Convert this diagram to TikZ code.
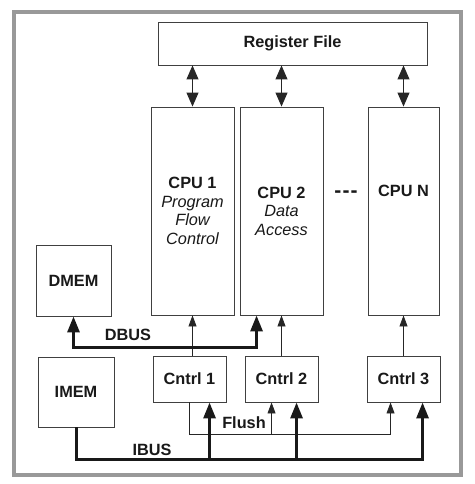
\documentclass[tikz,border=0pt]{standalone}
\usepackage{fontspec}
\setmainfont{Liberation Sans}
\usetikzlibrary{arrows.meta}
\begin{document}
\begin{tikzpicture}[x=1pt,y=-1pt,
  txt/.style={font=\fontsize{16.3}{18.5}\selectfont\bfseries, text=black!90, inner sep=0pt},
  box/.style={txt, draw=black!75, line width=0.9pt, fill=white, align=center},
  dbl/.style={line width=1pt, black!85, {Triangle[width=12pt,length=14pt]}-{Triangle[width=12pt,length=14pt]}},
  thinarr/.style={line width=0.8pt, black!85, -{Triangle[width=8pt,length=11pt]}},
  bus/.style={line width=3pt, black!90},
  busarr/.style={bus, -{Triangle[width=12pt,length=16pt]}}]
\useasboundingbox (0,0) rectangle (474,484);
\draw[line width=4pt, black!40] (14,12) rectangle (461,475);

% boxes
\node[box, minimum width=269pt, minimum height=43pt] (rf) at (292.5,43.5) {Register File};
\node[box, minimum width=83pt, minimum height=208pt] (cpu1) at (192.5,211)
  {CPU 1\\\mdseries\itshape Program\\\mdseries\itshape Flow\\\mdseries\itshape Control};
\node[box, minimum width=83pt, minimum height=208pt] (cpu2) at (281.5,211)
  {CPU 2\\\mdseries\itshape Data\\\mdseries\itshape Access};
\node[box, minimum width=71pt, minimum height=208pt] (cpun) at (403.5,211) {};
\node[txt] (cpunlabel) at (403.5,191) {CPU N};
\node[txt, font=\fontsize{21}{21}\selectfont\bfseries] (dots) at (346,194) {-\kern1.2pt-\kern1.2pt-};
\node[box, minimum width=75pt, minimum height=71pt] (dmem) at (73.5,280.5) {DMEM};
\node[box, minimum width=76pt, minimum height=70pt] (imem) at (76,392) {IMEM};
\node[box, minimum width=73pt, minimum height=46pt] (c1) at (189.5,379) {Cntrl 1};
\node[box, minimum width=73pt, minimum height=46pt] (c2) at (281.5,379) {Cntrl 2};
\node[box, minimum width=73pt, minimum height=46pt] (c3) at (403.5,379) {Cntrl 3};

% register file links
\draw[dbl] (rf.south -| cpu1.north) -- (cpu1.north);
\draw[dbl] (rf.south -| cpu2.north) -- (cpu2.north);
\draw[dbl] (rf.south -| cpun.north) -- (cpun.north);

% control to cpu
\draw[thinarr] (cpu1.south |- c1.north) -- (cpu1.south);
\draw[thinarr] (cpu2.south |- c2.north) -- (cpu2.south);
\draw[thinarr] (cpun.south |- c3.north) -- (cpun.south);

% DBUS
\coordinate (dbusy) at (0,347);
\coordinate (d2) at ([xshift=17pt]cpu2.south west);
\draw[bus, {Triangle[width=12pt,length=16pt]}-{Triangle[width=12pt,length=16pt]}]
  (dmem.south) |- (d2 |- dbusy) -- (d2);
\node[txt] (dbuslabel) at (128,335) {DBUS};

% Flush
\coordinate (flushy) at (0,434);
\coordinate (f2) at ([xshift=27pt]c2.south west);
\coordinate (f3) at ([xshift=24pt]c3.south west);
\draw[thinarr] (c1.south) |- (f3 |- flushy) -- (f3);
\draw[thinarr] (f2 |- flushy) -- (f2);
\node[txt] (flushlabel) at (244,423) {Flush};

% IBUS
\coordinate (ibusy) at (0,459);
\coordinate (i1) at ([xshift=57pt]c1.south west);
\coordinate (i2) at ([xshift=52pt]c2.south west);
\coordinate (i3) at ([xshift=56pt]c3.south west);
\draw[busarr] (imem.south) |- (i3 |- ibusy) -- (i3);
\draw[busarr] (i1 |- ibusy) -- (i1);
\draw[busarr] (i2 |- ibusy) -- (i2);
\node[txt] (ibuslabel) at (152,450) {IBUS};
\end{tikzpicture}
\end{document}
